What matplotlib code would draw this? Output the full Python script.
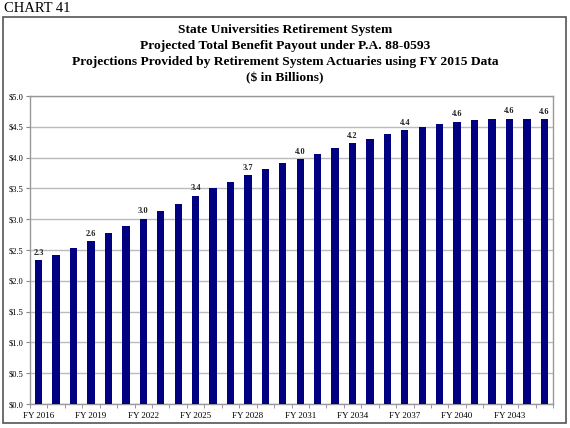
import matplotlib
matplotlib.use("Agg")
import matplotlib.pyplot as plt
from matplotlib.patches import Rectangle
from matplotlib.ticker import FixedLocator

# data ($ billions)
years = list(range(2016, 2046))
payout = [2.33, 2.42, 2.54, 2.64, 2.77, 2.89, 3.01, 3.13, 3.25, 3.38,
          3.50, 3.60, 3.71, 3.82, 3.92, 3.97, 4.06, 4.15, 4.23, 4.31,
          4.38, 4.44, 4.49, 4.54, 4.58, 4.61, 4.63, 4.63, 4.63, 4.62]
labeled_years = [2016, 2019, 2022, 2025, 2028, 2031, 2034, 2037, 2040, 2043, 2045]
tick_years = [2016, 2019, 2022, 2025, 2028, 2031, 2034, 2037, 2040, 2043]

plt.rcParams['font.family'] = ['Liberation Serif', 'DejaVu Serif']

fig = plt.figure(figsize=(5.7, 4.28), dpi=100)

# outer frame
fig.patches.append(Rectangle((3 / 570, 5 / 428), 563 / 570, 406 / 428,
                             transform=fig.transFigure, fill=False,
                             edgecolor='#555555', linewidth=1.2))
fig.text(4 / 570, 1 - 8 / 428, 'CHART 41', ha='left', va='center', fontsize=10.5)

titles = ['State Universities Retirement System',
          'Projected Total Benefit Payout under P.A. 88-0593',
          'Projections Provided by Retirement System Actuaries using FY 2015 Data',
          '($ in Billions)']
for i, t in enumerate(titles):
    fig.text(0.5, 1 - (30 + 16 * i) / 428, t, ha='center', va='center',
             fontsize=9.7, fontweight='bold')

ax = fig.add_axes([30 / 570, 1 - 404 / 428, 523 / 570, 308 / 428])
x = list(range(len(years)))
ax.bar(x, payout, width=0.42, color='#000080', zorder=3)

for xi, yr, v in zip(x, years, payout):
    if yr in labeled_years:
        ax.text(xi, v + 0.06, f'{v:.1f}', ha='center', va='bottom',
                fontsize=6, fontweight='bold', color='#222222')

ax.set_xlim(-0.5, len(years) - 0.5)
ax.set_ylim(0, 5.0)
ax.set_yticks([i * 0.5 for i in range(11)])
ax.set_yticklabels([f'${i * 0.5:.1f}' for i in range(11)], fontsize=6)
ax.set_xticks([years.index(y) for y in tick_years])
ax.set_xticklabels([f'FY {y}' for y in tick_years], fontsize=6.5)
ax.xaxis.set_minor_locator(FixedLocator([i - 0.5 for i in range(len(years) + 1)]))
ax.tick_params(axis='x', which='major', length=0, pad=6)
ax.tick_params(axis='x', which='minor', length=3, color='#888888', direction='out')
ax.tick_params(axis='y', length=3, color='#888888', pad=2)

ax.grid(axis='y', color='#bbbbbb', linewidth=1.0, zorder=0)
for s in ax.spines.values():
    s.set_color('#999999')
    s.set_linewidth(1.0)

fig.savefig('out.png', dpi=100)
